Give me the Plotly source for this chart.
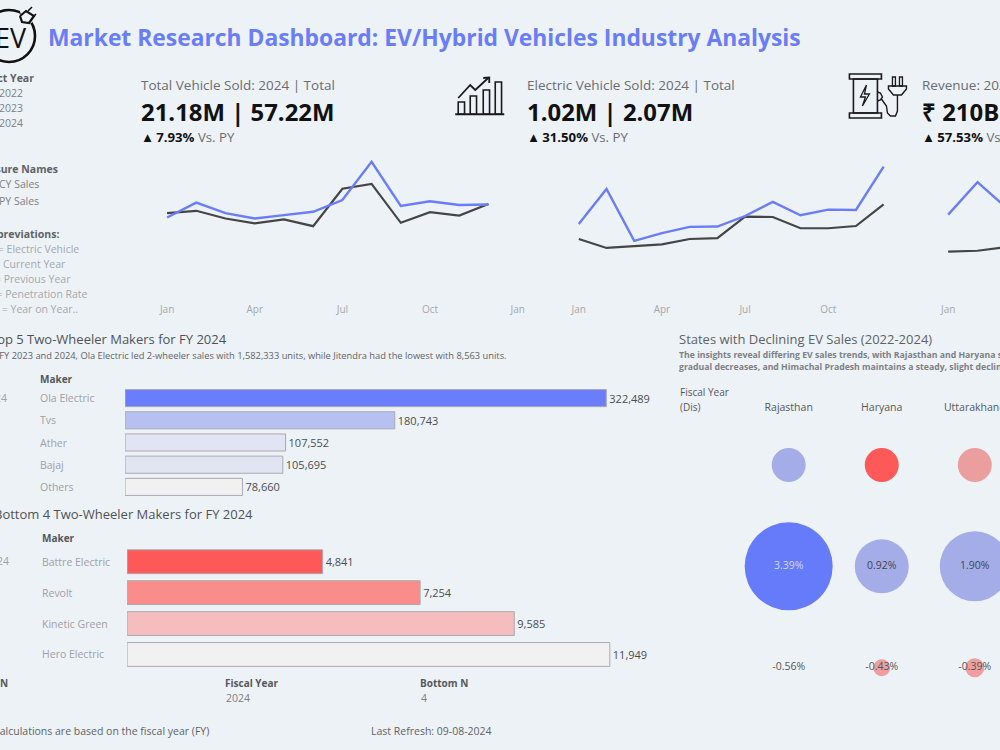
import plotly.graph_objects as go

# ---------- data ----------
months = list(range(12))
month_ticks = [0, 3, 6, 9, 12]
month_labels = ["Jan", "Apr", "Jul", "Oct", "Jan"]

total_cy = [1.51, 1.82, 1.60, 1.49, 1.56, 1.63, 1.875, 2.67, 1.75, 1.85, 1.77, 1.78]
total_py = [1.60, 1.65, 1.49, 1.39, 1.47, 1.33, 2.11, 2.21, 1.40, 1.62, 1.55, 1.79]
ev_cy = [73.8, 113, 55, 63.5, 70.6, 70.9, 82.7, 98.4, 83.5, 89.8, 89.4, 137.9]
ev_py = [57, 47, 49, 51, 57, 58, 82, 81.6, 69, 69, 71.5, 95.8]
rev_months = [0, 1, 2]
rev_cy = [84, 120, 91]
rev_py = [43, 44, 48]

top_makers = ["Ola Electric", "Tvs", "Ather", "Bajaj", "Others"]
top_sales = [322489, 180743, 107552, 105695, 78660]
bottom_makers = ["Battre Electric", "Revolt", "Kinetic Green", "Hero Electric"]
bottom_sales = [4841, 7254, 9585, 11949]

states = ["Rajasthan", "Haryana", "Uttarakhand"]
fiscal_years = ["2022", "2023", "2024"]
growth_2022 = [None, None, None]
growth_2023 = [3.39, 0.92, 1.90]
growth_2024 = [-0.56, -0.43, -0.39]

# ---------- style ----------
BG = "#EDF2F7"
BLUE = "#6A7DF8"
DARK = "#454545"
TXT = "#5F6265"
FONT = "Open Sans"

W, H = 1006, 750
U = 1002.5  # picture pixels covered by the full paper width
def X(p): return p / U
def Y(p): return 1 - p / H

fig = go.Figure()
layout = dict(
    width=W, height=H, margin=dict(l=0, r=0, t=0, b=0),
    paper_bgcolor=BG, plot_bgcolor="rgba(0,0,0,0)",
    showlegend=False, font=dict(family=FONT, color=TXT, size=11),
)
annotations, shapes = [], []

def note(text, x, y, size=11, color=TXT, bold=False, anchor="left", font=FONT):
    t = f"<b>{text}</b>" if bold else text
    annotations.append(dict(text=t, x=X(x), y=Y(y), xref="paper", yref="paper",
                            xanchor=anchor, yanchor="middle", showarrow=False,
                            borderpad=0, borderwidth=0,
                            font=dict(size=size, color=color, family=font)))

# ---------- line panels ----------
def line_panel(n, cy, py, xs, x0, step, dom, yr):
    ax = dict(domain=[X(dom[0]), X(dom[1])],
              range=[(dom[0] - x0) / step, (dom[1] - x0) / step],
              tickvals=month_ticks, ticktext=month_labels, showgrid=False, zeroline=False,
              showline=False, ticks="outside", ticklen=5, tickcolor="rgba(0,0,0,0)",
              tickfont=dict(size=10, color="#A6A8AB", family=FONT),
              fixedrange=True, anchor=f"y{n}")
    ay = dict(domain=[Y(295), Y(155)], range=yr, visible=False, fixedrange=True, anchor=f"x{n}")
    layout[f"xaxis{n}"] = ax
    layout[f"yaxis{n}"] = ay
    fig.add_trace(go.Scatter(x=xs, y=py, mode="lines", line=dict(color=DARK, width=2.2),
                             xaxis=f"x{n}", yaxis=f"y{n}", name="PY Sales"))
    fig.add_trace(go.Scatter(x=xs, y=cy, mode="lines", line=dict(color=BLUE, width=2.4),
                             xaxis=f"x{n}", yaxis=f"y{n}", name="CY Sales"))

line_panel(1, total_cy, total_py, months, 167, 29.2, (141, 522), [-0.104, 2.8125])
line_panel(2, ev_cy, ev_py, months, 578.5, 27.7, (555, 910), [-5.6, 150.9])
line_panel(3, rev_cy, rev_py, rev_months, 947.7, 29.3, (938, U), [-5, 150])

# ---------- bars ----------
def bar_panel(n, names, vals, colors, x0, x_end, top, bottom, label_x):
    layout[f"xaxis{n}"] = dict(domain=[X(x0), 1],
                               range=[0, max(vals) * (U - x0) / (x_end - x0)],
                               visible=False, fixedrange=True, anchor=f"y{n}")
    layout[f"yaxis{n}"] = dict(domain=[Y(bottom), Y(top)], type="category",
                               categoryorder="array", categoryarray=names[::-1],
                               visible=False, fixedrange=True, anchor=f"x{n}")
    fig.add_trace(go.Bar(x=vals, y=names, orientation="h",
                         marker=dict(color=colors, line=dict(color="#A9ABB0", width=1)),
                         text=[f"{v:,}" for v in vals], textposition="outside", cliponaxis=False,
                         textfont=dict(size=11, color="#4A4D50", family=FONT), width=0.77,
                         xaxis=f"x{n}", yaxis=f"y{n}"))
    for name in names:
        annotations.append(dict(text=name, x=X(label_x), y=name, xref="paper", yref=f"y{n}",
                                xanchor="left", yanchor="middle", showarrow=False,
                                borderpad=0, borderwidth=0,
                                font=dict(size=10.5, color="#9FA1A4", family=FONT)))

bar_panel(4, top_makers, top_sales, ["#6A7DFB", "#B8C0F2", "#E1E4F3", "#E1E4F3", "#F1F1F1"],
          125, 606, 387, 498, 40)
bar_panel(5, bottom_makers, bottom_sales, ["#FD5959", "#FB8C8C", "#F5BDBD", "#F1F1F1"],
          127, 609.5, 546.3, 669.9, 42)

# ---------- bubbles ----------
bubble_px = [[34, 34, 34], [88, 54, 70], [0, 17, 19]]
bubble_col = [["#A4ADE8", "#FD5959", "#EB9E9E"],
              ["#667BFA", "#A4ADE8", "#A4ADE8"],
              [BG, "#EE9E9E", "#EE9E9E"]]
label_col = [["#444"] * 3, ["#D3D9FA", "#3F4450", "#3F4450"], ["#55585B"] * 3]
layout["xaxis6"] = dict(domain=[X(741.8), 1], type="category", categoryorder="array",
                        categoryarray=states, range=[-0.5, -0.5 + (U - 741.8) / 93], side="top",
                        showgrid=False, zeroline=False, showline=False, ticks="", fixedrange=True,
                        anchor="y6", tickfont=dict(size=10.5, color="#55585B", family=FONT))
layout["yaxis6"] = dict(domain=[Y(718.4), Y(414.3)], type="category", categoryorder="array",
                        categoryarray=fiscal_years, range=[2.5, -0.5], visible=False,
                        fixedrange=True, anchor="x6")
for i, (fy, g) in enumerate(zip(fiscal_years, [growth_2022, growth_2023, growth_2024])):
    fig.add_trace(go.Scatter(
        x=states, y=[fy] * len(states), mode="markers+text", cliponaxis=False,
        marker=dict(size=bubble_px[i], color=bubble_col[i], line=dict(width=0), opacity=1),
        text=["" if v is None else f"{v:.2f}%" for v in g], textposition="middle center",
        textfont=dict(size=10.5, color=label_col[i], family=FONT),
        xaxis="x6", yaxis="y6"))
    annotations.append(dict(text=fy, x=X(680), y=fy, xref="paper", yref="y6", xanchor="left",
                            yanchor="middle", showarrow=False, borderpad=0, borderwidth=0,
                            font=dict(size=10.5, color="#4F5255", family=FONT)))

# ---------- text ----------
note("Market Research Dashboard: EV/Hybrid Vehicles Industry Analysis", 48, 38, 22.85, BLUE, True)

note("Select Year", 34, 78, 10.5, TXT, True, "right")
for yr, yy in zip(["2022", "2023", "2024"], [93, 108, 123]):
    note(yr, 23, yy, 10.5, "#7E8083", anchor="right")
note("Measure Names", 58, 169, 10.5, TXT, True, "right")
note("CY Sales", 39, 184, 10.5, "#7E8083", anchor="right")
note("PY Sales", 39, 201, 10.5, "#7E8083", anchor="right")
note("Abbreviations:", 59, 234, 10.5, TXT, True, "right")
note("EV = Electric Vehicle", 79, 249, 10.5, "#A6A8AB", anchor="right")
note("CY = Current Year", 66, 264, 10.5, "#A6A8AB", anchor="right")
note("PY = Previous Year", 71, 279, 10.5, "#A6A8AB", anchor="right")
note("PR = Penetration Rate", 88, 294, 10.5, "#A6A8AB", anchor="right")
note("YoY = Year on Year..", 78, 309, 10.5, "#A6A8AB", anchor="right")

for x, head, big, pct in [
    (141, "Total Vehicle Sold: 2024 | Total", "21.18M | 57.22M", "7.93%"),
    (527, "Electric Vehicle Sold: 2024 | Total", "1.02M | 2.07M", "31.50%"),
    (922, "Revenue: 2024 | Total", "₹ 210B", "57.53%"),
]:
    note(head, x, 85, 13.5, "#6A6D70")
    note(big, x, 111, 23.9, "#111111", True)
    note(f"<b style='color:#111'>▲\u2009{pct}</b> Vs. PY", x, 137, 13.2, "#6A6D70")

note("Top 5 Two-Wheeler Makers for FY 2024", 227, 339, 13, "#4F5255", anchor="right")
note("Between FY 2023 and 2024, Ola Electric led 2-wheeler sales with 1,582,333 units, "
     "while Jitendra had the lowest with 8,563 units.", 507, 355, 9.3, TXT, anchor="right")
note("Maker", 40, 379, 10, "#55585B", True)
note("2024", 7, 398, 10.5, "#9FA1A4", anchor="right")
note("Bottom 4 Two-Wheeler Makers for FY 2024", 253, 514, 13, "#4F5255", anchor="right")
note("Maker", 42, 538, 10, "#55585B", True)
note("2024", 9, 561, 10.5, "#9FA1A4", anchor="right")
note("Top N", 8, 683, 10, "#55585B", True, "right")
note("Fiscal Year", 225, 683, 10, "#55585B", True)
note("2024", 226, 698, 10.5, "#7E8083")
note("Bottom N", 420, 683, 10, "#55585B", True)
note("4", 421, 698, 10.5, "#7E8083")
note("All calculations are based on the fiscal year (FY)", 209, 731, 10.5, TXT, anchor="right")
note("Last Refresh: 09-08-2024", 371, 731, 10.5, TXT)

note("States with Declining EV Sales (2022-2024)", 679, 339, 13, TXT)
note("The insights reveal differing EV sales trends, with Rajasthan and Haryana showing sharp swings,", 679, 354.5, 8.7, "#7E8083", True)
note("gradual decreases, and Himachal Pradesh maintains a steady, slight decline.", 679, 367, 8.7, "#7E8083", True)
note("Fiscal Year", 680, 392, 10, "#55585B")
note("(Dis)", 680, 407, 10, "#55585B")

# ---------- icons ----------
def path(points, close=False, color="#1A1A1A", width=1.6, fill=None):
    d = "M " + " L ".join(f"{X(a):.5f},{Y(b):.5f}" for a, b in points) + (" Z" if close else "")
    shapes.append(dict(type="path", path=d, xref="paper", yref="paper",
                       line=dict(color=color, width=width),
                       fillcolor=fill if fill else "rgba(0,0,0,0)"))

def box(x0, y0, x1, y1, width=1.6):
    path([(x0, y0), (x1, y0), (x1, y1), (x0, y1)], True, width=width)

# rising-bars icon
path([(455, 114.3), (504, 114.3)], width=2)
for x0, top in [(458, 102), (470, 96), (483, 90), (495, 82)]:
    box(x0, top, x0 + 6.3, 114.3)
path([(458, 98), (470, 85), (475, 90), (488, 78)], width=1.8)
path([(483, 78), (489, 77.5), (489, 83)], width=1.8)

# charger icon
box(849, 74, 881, 79)
box(849, 113, 881, 118)
box(853, 79, 877, 113)
path([(866, 85), (860, 97), (865, 97), (862, 106), (869, 94), (864, 94)], True, width=1.3)
path([(877, 92), (880, 93), (882, 97), (880, 100), (877, 101)], width=1.4)
path([(881, 99), (886, 106), (887, 113), (890, 116), (895, 116), (897, 111), (897, 95)], width=1.4)
box(892, 77, 895, 86, 1.3)
box(899, 77, 902, 86, 1.3)
path([(888, 86), (906, 86), (906, 89), (901, 95), (893, 95), (888, 89)], True, width=1.4)

# EV logo
shapes.append(dict(type="circle", xref="paper", yref="paper", x0=X(-17), x1=X(35),
                   y0=Y(62), y1=Y(10), line=dict(color="#111", width=2.6)))
path([(20, 9), (33, 16), (31, 23), (23, 21)], True, color=BG, width=1, fill=BG)
path([(20, 16), (26, 11), (34, 16), (29, 23), (22, 22), (20, 16)], width=2.2, color="#111")
path([(28, 11), (32, 7)], width=1.6, color="#111")
path([(33, 17), (36, 14)], width=1.6, color="#111")
note("EV", 11, 37.5, 27, "#111", anchor="center", font="Open Sans")

layout["annotations"] = annotations
layout["shapes"] = shapes
fig.update_layout(**layout)
fig.write_html("out.html", config={"displayModeBar": False},
               post_script="document.body.style.margin='0';document.body.style.overflow='hidden';"
                           f"document.body.style.background='{BG}';")
